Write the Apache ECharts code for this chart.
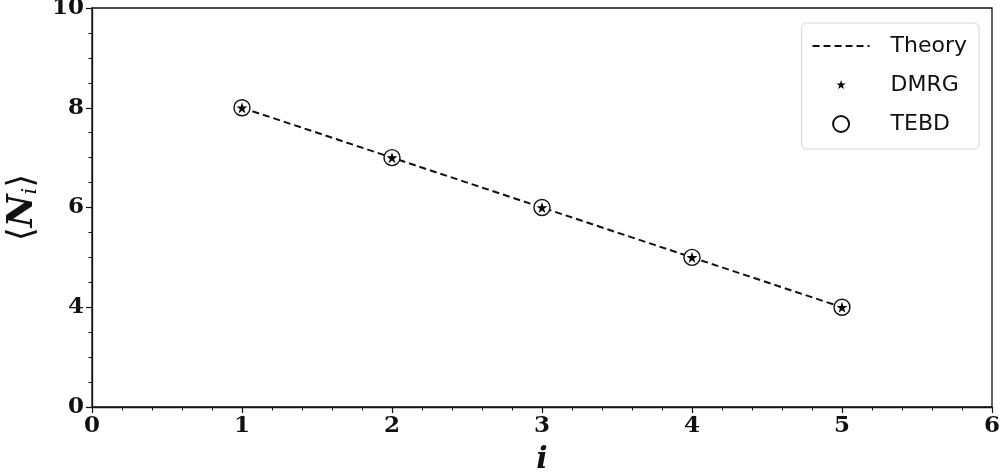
<!DOCTYPE html>
<html>
<head>
<meta charset="utf-8">
<script src="https://cdn.jsdelivr.net/npm/echarts@6/dist/echarts.min.js"></script>
<style>
  html, body { margin: 0; padding: 0; background: #fff; }
  #chart { width: 1000px; height: 473px; }
</style>
</head>
<body>
<div id="chart"></div>
<script>
//----------------------Data----------------------
let site_index = [1, 2, 3, 4, 5];
let theory_values = [8, 7, 6, 5, 4];
let dmrg_values = [8, 7, 6, 5, 4];
let tebd_values = [8, 7, 6, 5, 4];
// y ticks drawn at these values, with these labels
let y_tick_values = [2, 4, 6, 8, 10];
let y_tick_labels = ['0', '4', '6', '8', '10'];
let x_tick_labels = ['0', '1', '2', '3', '4', '5', '6'];

function to_pairs(xs, ys) {
    let out = [];
    for (let k = 0; k < xs.length; k++) {
        out.push([xs[k], ys[k]]);
    }
    return out;
}

//---------------------Styles---------------------
let tick_font = {
    fontFamily: 'DejaVu Serif',
    fontWeight: 'bold',
    fontSize: 23,
    color: '#111'
};
let star_shape = 'M1,0 L1.225,0.691 L1.951,0.691 L1.363,1.118 L1.588,1.809 L1,1.382 L0.412,1.809 L0.637,1.118 L0.049,0.691 L0.775,0.691 Z';
let star_path = 'path://' + star_shape;
// same star, padded by empty moves so it draws smaller in the legend
let star_legend = 'path://M-0.6,-0.6 M2.6,2.6 ' + star_shape;

let chart = echarts.init(document.getElementById('chart'));

let option = {
    backgroundColor: '#fff',
    animation: false,
    grid: {
        left: 92, right: 8, top: 8, bottom: 66,
        show: true,
        borderColor: '#111',
        borderWidth: 1.3,
        containLabel: false,
        outerBoundsMode: 'none'
    },
    legend: {
        show: true,
        orient: 'vertical',
        right: 21,
        top: 23,
        padding: [12, 12, 14, 10],
        itemWidth: 57,
        itemHeight: 16,
        itemGap: 17,
        borderColor: '#d6d6d6',
        borderWidth: 1,
        borderRadius: 5,
        textStyle: {
            fontFamily: 'DejaVu Sans',
            fontSize: 22,
            color: '#111',
            padding: [0, 0, 0, 16]
        },
        data: [
            {name: 'Theory', itemStyle: {color: 'rgba(0,0,0,0)', borderWidth: 0}},
            {name: 'DMRG', icon: star_legend},
            {name: 'TEBD'}
        ]
    },
    xAxis: {
        type: 'value',
        min: 0, max: 6, interval: 1,
        name: 'i',
        nameLocation: 'middle',
        nameGap: 38,
        nameTextStyle: {
            fontFamily: 'DejaVu Serif',
            fontWeight: 'bold',
            fontStyle: 'italic',
            fontSize: 30,
            color: '#111'
        },
        axisLine: {lineStyle: {color: '#111', width: 1.3}},
        axisTick: {length: 6, lineStyle: {color: '#111', width: 1.2}},
        minorTick: {show: true, splitNumber: 5, length: 3.5, lineStyle: {color: '#111', width: 1}},
        splitLine: {show: false},
        axisLabel: Object.assign({margin: 8, formatter: function (v) {
            return x_tick_labels[Math.round(v)];
        }}, tick_font)
    },
    yAxis: {
        type: 'value',
        min: 2, max: 10, interval: 2,
        name: '{b|⟨}{n|N}{s|i}{b|⟩}',
        nameLocation: 'middle',
        nameRotate: 90,
        nameGap: 50,
        nameTextStyle: {
            rich: {
                b: {fontFamily: 'DejaVu Serif', fontSize: 36, color: '#111'},
                n: {fontFamily: 'DejaVu Serif', fontWeight: 'bold', fontStyle: 'italic', fontSize: 36, color: '#111'},
                s: {fontFamily: 'DejaVu Serif', fontStyle: 'italic', fontSize: 21, color: '#111', verticalAlign: 'bottom', padding: [15, 0, 0, 0]}
            }
        },
        axisLine: {lineStyle: {color: '#111', width: 1.3}},
        axisTick: {length: 6, lineStyle: {color: '#111', width: 1.2}},
        minorTick: {show: true, splitNumber: 4, length: 3.5, lineStyle: {color: '#111', width: 1}},
        splitLine: {show: false},
        axisLabel: Object.assign({margin: 8, formatter: function (v) {
            let k = y_tick_values.indexOf(v);
            return k >= 0 ? y_tick_labels[k] : '';
        }}, tick_font)
    },
    series: [
        {
            name: 'Theory',
            type: 'line',
            data: to_pairs(site_index, theory_values),
            showSymbol: false,
            symbol: 'none',
            lineStyle: {color: '#111', width: 2, type: [7, 4]},
            itemStyle: {color: '#111'},
            z: 2
        },
        {
            name: 'DMRG',
            type: 'scatter',
            data: to_pairs(site_index, dmrg_values),
            symbol: star_path,
            symbolSize: 11,
            itemStyle: {color: '#000', opacity: 1},
            z: 4
        },
        {
            name: 'TEBD',
            type: 'scatter',
            data: to_pairs(site_index, tebd_values),
            symbol: 'circle',
            symbolSize: 16,
            itemStyle: {color: '#fff', borderColor: '#111', borderWidth: 1.4, opacity: 1},
            z: 3
        }
    ]
};
chart.setOption(option);
</script>
</body>
</html>
